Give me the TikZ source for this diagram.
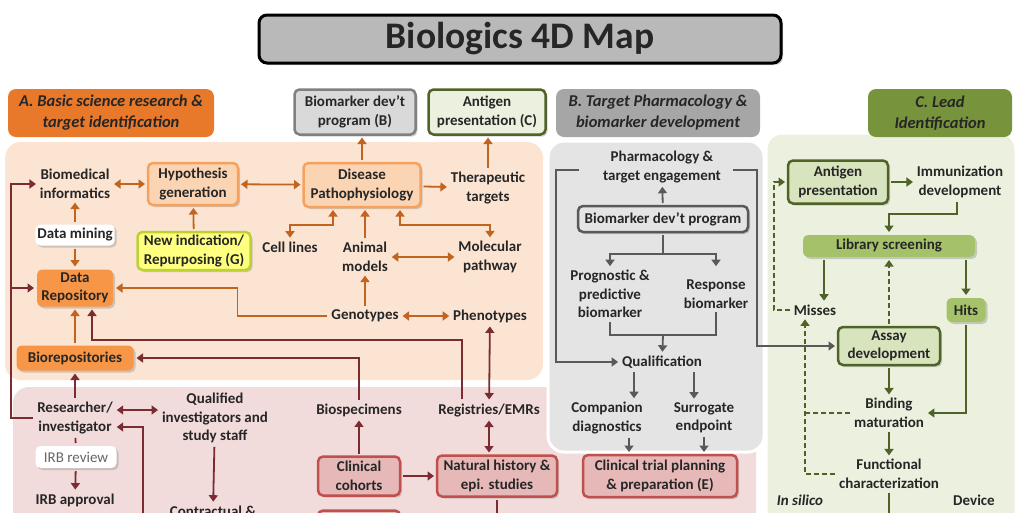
\documentclass[tikz,border=0pt]{standalone}
\usepackage{fontspec}
\setmainfont{Carlito}
\usetikzlibrary{arrows.meta,shadows,positioning}

\definecolor{peachbg}{HTML}{FCE4D2}
\definecolor{pinkbg}{HTML}{F2DCDB}
\definecolor{graybg}{HTML}{E4E4E4}
\definecolor{greenbg}{HTML}{EBF1DE}
\definecolor{orhead}{HTML}{E8782A}
\definecolor{grhead}{HTML}{A6A6A6}
\definecolor{gnhead}{HTML}{77933C}
\definecolor{orline}{HTML}{C2631F}
\definecolor{orfill}{HTML}{FBD4B4}
\definecolor{oredge}{HTML}{F6A25E}
\definecolor{ordark}{HTML}{F79646}
\definecolor{mrline}{HTML}{7B2C32}
\definecolor{redfill}{HTML}{E6B9B8}
\definecolor{rededge}{HTML}{C0504D}
\definecolor{kline}{HTML}{595959}
\definecolor{kfill}{HTML}{D9D9D9}
\definecolor{gnline}{HTML}{4F6228}
\definecolor{gnfill}{HTML}{D7E4BD}
\definecolor{libfill}{HTML}{A5C26A}
\definecolor{yelfill}{HTML}{FFFF80}
\definecolor{yeledge}{HTML}{BCD232}

\tikzset{
  txt/.style={font=\bfseries\fontsize{15}{18.5}\selectfont, align=center, text=black!85, inner sep=1pt, outer sep=3pt},
  box/.style={txt, rounded corners=5pt, line width=2.5pt, inner sep=2pt,
    drop shadow={opacity=0.35, shadow xshift=2pt, shadow yshift=-2pt}},
  hdr/.style={font=\bfseries\itshape\fontsize{16.5}{21}\selectfont, align=center, text=black!85,
    rounded corners=8pt, minimum height=48pt, inner sep=2pt},
  obox/.style={box, fill=orfill, draw=oredge},
  dobox/.style={box, fill=ordark},
  wbox/.style={box, fill=white},
  ybox/.style={box, fill=yelfill, draw=yeledge},
  rbox/.style={box, fill=redfill, draw=rededge},
  gbox/.style={box, fill=kfill, draw=gray},
  kbox/.style={box, fill=graybg, draw=kline},
  cbox/.style={box, fill=greenbg, draw=gnline},
  nbox/.style={box, fill=gnfill, draw=gnline},
  lbox/.style={box, fill=libfill, drop shadow={opacity=0}},
  oarr/.style={draw=orline, line width=1.8pt},
  marr/.style={draw=mrline, line width=1.8pt},
  karr/.style={draw=kline, line width=1.8pt},
  garr/.style={draw=gnline, line width=1.8pt},
  gdash/.style={draw=gnline, line width=1.3pt, dash pattern=on 5pt off 3pt}
}

\begin{document}
\begin{tikzpicture}[x=1pt,y=-1pt,>={Triangle[length=6.5pt,width=9pt]}]
    \useasboundingbox (0,0) rectangle (1024,512);
    \clip (0,0) rectangle (1024,512);

    % Region backgrounds
    \fill[peachbg, rounded corners=16pt] (5,142) rectangle (543,380);
    \fill[pinkbg, rounded corners=16pt] (13,387) rectangle (756,600);
    \filldraw[fill=graybg, draw=white, line width=3pt, rounded corners=16pt] (548,141) rectangle (764,452);
    \filldraw[fill=greenbg, draw=white, line width=3pt, rounded corners=16pt] (766,133) rectangle (1016,600);

    % Title and section headers
    \node[box, font=\bfseries\fontsize{37.5}{40}\selectfont, fill=lightgray!90!gray, draw=black, line width=3pt,
      rounded corners=8pt, minimum width=522pt, minimum height=48pt] (title) at (520,39) {Biologics 4D Map};
    \node[hdr, fill=orhead, minimum width=206pt] (hdrA) at (111,113) {A. Basic science research \&\\target identification};
    \node[hdr, fill=grhead, minimum width=204pt] (hdrB) at (658,113) {B. Target Pharmacology \&\\biomarker development};
    \node[hdr, fill=gnhead, minimum width=144pt] (hdrC) at (940,113) {C. Lead\\Identification};

    % A. Basic science research
    \node[txt] (bioinf) at (75,184) {Biomedical\\informatics};
    \node[obox, minimum width=90pt, minimum height=42pt] (hyp) at (193,184) {Hypothesis\\generation};
    \node[obox, minimum width=117pt, minimum height=44pt] (disease) at (362,185) {Disease\\Pathophysiology};
    \node[gbox, minimum width=121pt, minimum height=45pt] (biomB) at (355,112) {Biomarker dev’t\\program (B)};
    \node[cbox, minimum width=117pt, minimum height=45pt] (antC) at (487,112) {Antigen\\presentation (C)};
    \node[txt] (thera) at (488,188) {Therapeutic\\targets};
    \node[wbox, minimum width=78pt, minimum height=21pt] (dmine) at (75,235) {Data mining};
    \node[ybox, minimum width=113pt, minimum height=38pt] (newind) at (194,251) {New indication/\\Repurposing (G)};
    \node[dobox, minimum width=76pt, minimum height=37pt] (datarepo) at (75,288) {Data\\Repository};
    \node[txt] (celllines) at (290,247) {Cell lines};
    \node[txt] (animal) at (365,257) {Animal\\models};
    \node[txt] (molec) at (490,257) {Molecular\\pathway};
    \node[txt] (geno) at (365,316) {Genotypes};
    \node[txt] (pheno) at (490,316) {Phenotypes};
    \node[dobox, minimum width=117pt, minimum height=25pt] (biorep) at (75,358) {Biorepositories};

    % Clinical side
    \node[txt] (research) at (75,418) {Researcher/\\investigator};
    \node[txt] (qual) at (215,418) {Qualified\\investigators and\\study staff};
    \node[wbox, font=\fontsize{15}{18.5}\selectfont, text=black!60, minimum width=81pt, minimum height=22pt] (irb) at (76,457) {IRB review};
    \node[txt] (irbapp) at (75,500) {IRB approval};
    \node[txt] (contract) at (213,511) {Contractual \&};
    \node[txt] (biospec) at (359,410) {Biospecimens};
    \node[txt] (registries) at (489,410) {Registries/EMRs};
    \node[rbox, minimum width=82pt, minimum height=39pt] (clincoh) at (359,476) {Clinical\\cohorts};
    \node[rbox, minimum width=120pt, minimum height=41pt] (natural) at (497,476) {Natural history \&\\epi. studies};
    \node[rbox, minimum width=154pt, minimum height=42pt] (ctp) at (660,476) {Clinical trial planning\\\& preparation (E)};
    \node[rbox, minimum width=82pt, minimum height=39pt] (lowbox) at (359,530) {};

    % B. Target pharmacology
    \node[txt] (pharm) at (662,167) {Pharmacology \&\\target engagement};
    \node[kbox, minimum width=170pt, minimum height=26pt] (bdp) at (663,219) {Biomarker dev’t program};
    \node[txt] (progn) at (610,294) {Prognostic \&\\predictive\\biomarker};
    \node[txt] (response) at (716,294) {Response\\biomarker};
    \node[txt] (qualif) at (662,362) {Qualification};
    \node[txt] (compan) at (607,418) {Companion\\diagnostics};
    \node[txt] (surrog) at (704,418) {Surrogate\\endpoint};

    % C. Lead identification
    \node[nbox, minimum width=100pt, minimum height=43pt] (antP) at (838,182) {Antigen\\presentation};
    \node[txt] (immun) at (960,182) {Immunization\\development};
    \node[lbox, minimum width=172pt, minimum height=22pt] (library) at (889,246) {Library screening};
    \node[txt] (misses) at (815,310) {Misses};
    \node[lbox, minimum width=39pt, minimum height=24pt] (hits) at (966,310) {Hits};
    \node[nbox, minimum width=102pt, minimum height=38pt] (assay) at (889,346) {Assay\\development};
    \node[txt] (binding) at (889,413) {Binding\\maturation};
    \node[txt] (func) at (889,474) {Functional\\characterization};
    \node[txt, font=\bfseries\itshape\fontsize{15}{18.5}\selectfont] (insilico) at (800,500) {In silico};
    \node[txt] (device) at (974,500) {Device};

    % free ends below the frame and bend points
    \coordinate (lowleft) at (143,540);
    \coordinate (natlow) at (497,540);
    \coordinate (funclow) at (889,540);
    \coordinate (regup) at ([xshift=-27pt]registries.north);
    \coordinate (repin) at ([xshift=17pt]datarepo.south);
    \coordinate (qmid) at (663,335);
    \coordinate (bleft) at (556,0);
    \coordinate (bright) at (757,0);
    \coordinate (mleft) at ([xshift=-10pt]misses.south);

    % orange links
    \foreach \a/\b in {dmine/bioinf, dmine/datarepo, newind/hyp, biorep/datarepo, geno/animal, disease/thera}
        \draw[oarr,->] (\a) -- (\b);
    \foreach \a/\b in {bioinf/hyp, hyp/disease, animal/molec, geno/pheno}
        \draw[oarr,<->] (\a) -- (\b);
    \draw[oarr,->] (disease.north) -- (disease.north |- biomB.south);
    \draw[oarr,->] (thera.north) -- (thera.north |- antC.south);
    \draw[oarr,->] (animal.north) -- (animal.north |- disease.south);
    \draw[oarr,<->] ([xshift=-29pt]disease.south) -- ++(0,15) -| (celllines.north);
    \draw[oarr,<->] ([xshift=38pt]disease.south) -- ++(0,15) -| (molec.north);
    \draw[oarr,->] (geno.west) -- ++(-90,0) |- (datarepo.east);

    % maroon links
    \draw[marr,->] (regup) -- (regup |- 0,340) -| (repin);
    \draw[marr,->] (biospec.north) |- (biorep.east);
    \draw[marr,->] (research) -- (biorep);
    \draw[marr,<->] ([yshift=8pt]research.east) -- ([yshift=8pt]research.east -| qual.west);
    \draw[marr,->] (research.west) -- ++(-22,0) coordinate (lp) |- (bioinf.west);
    \draw[marr,->] (lp |- datarepo.west) -- (datarepo.west);
    \draw[marr] (research) -- (irb);
    \draw[marr,->] (irb) -- (irbapp);
    \draw[marr,->] (lowleft) |- ([yshift=-9pt]research.east);
    \draw[marr,->] (qual) -- (contract);
    \draw[marr,->] (clincoh) -- (biospec);
    \draw[marr,->] (clincoh) -- (natural);
    \draw[marr,<->] (registries.south) -- (registries.south |- natural.north);
    \draw[marr,<->] (pheno) -- (registries);
    \draw[marr] (natural.south) -- (natural.south |- natlow);

    % grey links
    \draw[karr,->] (bdp) -- (pharm);
    \draw[karr,->] (bdp.south) -- ++(0,19) -| (progn.north);
    \draw[karr,->] (bdp.south) -- ++(0,19) -| (response.north |- progn.north);
    \draw[karr] (progn.south) |- (qmid) -| (response.south);
    \draw[karr,->] (qmid) -- (qualif);
    \draw[karr,->] ([xshift=-20pt,yshift=-3pt]pharm.west) -- ([yshift=-3pt]pharm.west -| bleft) |- (qualif.west);
    \draw[karr,->] ([xshift=8pt,yshift=-3pt]pharm.east) -- ([yshift=-3pt]pharm.east -| bright) |- (assay.west);
    \draw[karr,->] ([xshift=-28pt]qualif.south) -- ([xshift=-28pt]qualif.south |- compan.north);
    \draw[karr,->] ([xshift=32pt]qualif.south) -- ([xshift=32pt]qualif.south |- surrog.north);
    \draw[karr,->] ([xshift=22pt]compan.south) -- ([xshift=22pt]compan.south |- ctp.north);
    \draw[karr,->] (surrog.south) -- (surrog.south |- ctp.north);

    % green links
    \draw[garr,->] (antP) -- (immun);
    \draw[garr,->] ([xshift=-3pt]immun.south) -- ++(0,12) -| (library.north);
    \draw[garr,->] (library.south -| 824,0) -- (misses.north -| 824,0);
    \draw[garr,->] (library.south -| hits.north) -- (hits.north);
    \draw[gdash,->] (assay.north) -- (assay.north |- library.south);
    \draw[gdash,->] (misses.west) -- ++(-16,0) |- (antP.west);
    \draw[garr,->] (assay) -- (binding);
    \draw[garr,->] (hits.south) |- (binding.east);
    \draw[garr,->] (binding) -- (func);
    \draw[gdash,->] (func.west) -| (mleft);
    \draw[gdash] (binding.west) -- (mleft |- binding.west);
    \draw[garr] (func.south) -- (func.south |- funclow);
\end{tikzpicture}
\end{document}
